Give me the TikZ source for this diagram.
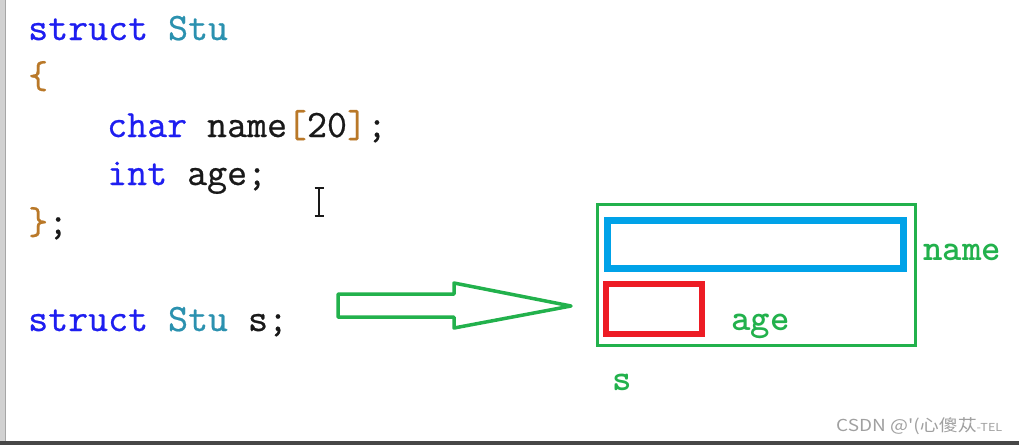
\documentclass[tikz,border=0pt]{standalone}
\usepackage{fontspec}
\newfontfamily\cjkfont{Noto Sans CJK SC}
\newfontfamily\codefont{Latin Modern Mono}[FakeBold=0.6]

\definecolor{kwblue}{RGB}{30,30,240}
\definecolor{tyteal}{RGB}{43,145,175}
\definecolor{brorange}{RGB}{185,120,40}
\definecolor{codeblack}{RGB}{25,25,25}
\definecolor{paintgreen}{RGB}{34,177,76}
\definecolor{paintblue}{RGB}{0,162,232}
\definecolor{paintred}{RGB}{237,28,36}
\definecolor{wmgray}{RGB}{160,160,160}

\newcommand{\kw}[1]{\textcolor{kwblue}{#1}}
\newcommand{\ty}[1]{\textcolor{tyteal}{#1}}
\newcommand{\br}[1]{\textcolor{brorange}{#1}}

\begin{document}
\begin{tikzpicture}[x=1pt, y=-1pt,
    code/.style={anchor=base west, inner sep=0pt, text=codeblack,
                 font=\codefont\fontsize{38.8}{44}\selectfont},
    lbl/.style={anchor=base west, inner sep=0pt, text=paintgreen,
                font=\ttfamily\bfseries\fontsize{37}{44}\selectfont},
    membox/.style={draw, rectangle, inner sep=0pt}]
    \useasboundingbox (0,0) rectangle (1019,445);

    % Window edges
    \fill[black!18] (0,0) rectangle (5,445);
    \draw[black!35, line width=1pt] (5.5,0) -- (5.5,445);
    \fill[black!72] (0,441) rectangle (1019,445);

    % Code lines
    \node (l1) [code] at (28,40) {\kw{struct} \ty{Stu}};
    \node (l2) [code] at (28,88) {\br{\{}};
    \node (l3) [code] at (107,137) {\kw{char} name\br{[}20\br{]};};
    \node (l4) [code] at (107,185) {\kw{int} age;};
    \node (l5) [code] at (28,234) {\br{\}};};
    \node (l6) [code] at (28,331) {\kw{struct} \ty{Stu} s;};

    % Text cursor
    \draw[codeblack, line width=1.6pt] (319,188) -- (319,216);
    \draw[codeblack, line width=1.4pt] (314.5,188) -- (323.5,188);
    \draw[codeblack, line width=1.4pt] (314.5,216) -- (323.5,216);

    % Big arrow
    \draw[paintgreen, line width=3.5pt, line join=round]
        (338,294) -- (454,294) -- (454,283) -- (571,306)
        -- (454,328) -- (454,317) -- (338,317) -- cycle;

    % Memory boxes
    \node (s)    [membox, draw=paintgreen, line width=3pt,
                  minimum width=318, minimum height=141] at (756.5,275) {};
    \node (name) [membox, draw=paintblue, line width=7pt,
                  minimum width=296, minimum height=48] at (755.5,244.5) {};
    \node (age)  [membox, draw=paintred, line width=6pt,
                  minimum width=96, minimum height=50] at (654,309) {};

    % Labels
    \node (namelbl) [lbl] at (923,260) {name};
    \node (agelbl)  [lbl] at (731,330) {age};
    \node (slbl)    [lbl] at (612,390) {s};

    % Watermark
    \node (wm) [anchor=west, inner sep=0pt, xscale=1.15, text=wmgray,
                font=\cjkfont\fontsize{16.5}{17}\selectfont]
        at (836,426) {CSDN @'(心傻苁{\fontsize{11}{11}\selectfont -TEL}};

\end{tikzpicture}
\end{document}
